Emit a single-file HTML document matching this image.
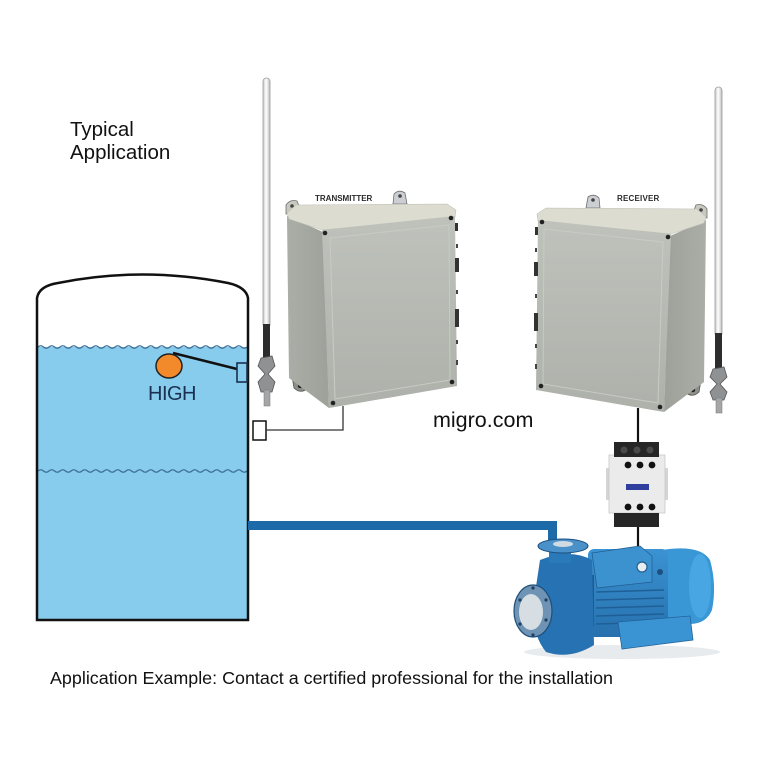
<!DOCTYPE html>
<html><head><meta charset="utf-8"><style>
html,body{margin:0;padding:0;background:#fff;}
svg{display:block;}
text{font-family:"Liberation Sans",Arial,sans-serif;}
</style></head><body>
<svg width="768" height="768" viewBox="0 0 768 768" xmlns="http://www.w3.org/2000/svg">
<defs>
<linearGradient id="front" x1="0" y1="0" x2="0" y2="1"><stop offset="0" stop-color="#bec2bb"/><stop offset="1" stop-color="#adb1aa"/></linearGradient>
<linearGradient id="side" x1="0" y1="0" x2="1" y2="0"><stop offset="0" stop-color="#aaaea6"/><stop offset="1" stop-color="#9da19a"/></linearGradient>
<linearGradient id="ant" x1="0" y1="0" x2="1" y2="0"><stop offset="0" stop-color="#c9c9c9"/><stop offset=".45" stop-color="#ffffff"/><stop offset="1" stop-color="#bdbdbd"/></linearGradient>
<linearGradient id="motor" x1="0" y1="0" x2="0" y2="1"><stop offset="0" stop-color="#3b93d3"/><stop offset="1" stop-color="#2670ad"/></linearGradient>
<g id="box">
  <path d="M286,214 L286,205 Q290,199 297,201 L301,211 Z" fill="#c8cac0" stroke="#6d6f69" stroke-width=".8"/>
  <circle cx="292" cy="206" r="1.8" fill="#444"/>
  <path d="M393,204 L394,194 Q399,189 405,193 L407,204 Z" fill="#ccced4" stroke="#6d6f69" stroke-width=".8"/>
  <circle cx="400" cy="196" r="1.8" fill="#444"/>
  <path d="M292,376 L294,388 Q300,394 307,389 L308,380 Z" fill="#8c9089" stroke="#555" stroke-width=".8"/>
  <circle cx="300" cy="386" r="2.2" fill="#222"/>
  <path d="M287,216 L323,232 L329,408 L289,378 Z" fill="url(#side)"/>
  <path d="M287,213 L296,205 L447,204 L456,210 L455,217 L322,230 L289,219 Z" fill="#dcdcd0" stroke="#bfc1b6" stroke-width=".6"/>
  <path d="M322,230 L455,216 L457,386 L329,408 Z" fill="url(#front)"/>
  <path d="M330,238 L449,225 L450,380 L335,399 Z" fill="none" stroke="#c8cbc4" stroke-width="1"/>
  <circle cx="325" cy="233" r="2.3" fill="#222"/>
  <circle cx="451" cy="218" r="2.3" fill="#222"/>
  <circle cx="452" cy="382" r="2.3" fill="#222"/>
  <circle cx="333" cy="403" r="2.3" fill="#222"/>
  <rect x="455" y="223" width="3" height="8" fill="#333"/>
  <rect x="455" y="258" width="4" height="14" fill="#333"/>
  <rect x="455" y="309" width="4" height="18" fill="#333"/>
  <rect x="456" y="244" width="2" height="4" fill="#444"/>
  <rect x="456" y="290" width="2" height="4" fill="#444"/>
  <rect x="456" y="340" width="2" height="4" fill="#444"/>
  <rect x="456" y="360" width="2" height="5" fill="#444"/>
</g>
</defs>

<rect width="768" height="768" fill="#fff"/>

<!-- Title -->
<text x="70" y="136" font-size="20.5" fill="#111">Typical</text>
<text x="70" y="159" font-size="20.5" fill="#111">Application</text>

<!-- Tank -->
<path d="M37,620 V298 Q39,286 58,283 Q142,266 228,283 Q246,287 248,298 V620 Z" fill="#fff"/>
<rect x="37" y="347" width="211" height="273" fill="#87ccec"/>
<path d="M38,347 q2.75,-2.5 5.5,0 t5.5,0 t5.5,0 t5.5,0 t5.5,0 t5.5,0 t5.5,0 t5.5,0 t5.5,0 t5.5,0 t5.5,0 t5.5,0 t5.5,0 t5.5,0 t5.5,0 t5.5,0 t5.5,0 t5.5,0 t5.5,0 t5.5,0 t5.5,0 t5.5,0 t5.5,0 t5.5,0 t5.5,0 t5.5,0 t5.5,0 t5.5,0 t5.5,0 t5.5,0 t5.5,0 t5.5,0 t5.5,0 t5.5,0 t5.5,0 t5.5,0 t5.5,0 t5.5,0" fill="none" stroke="#3d6f98" stroke-width="1.3"/>
<path d="M38,471 q2.75,-2.5 5.5,0 t5.5,0 t5.5,0 t5.5,0 t5.5,0 t5.5,0 t5.5,0 t5.5,0 t5.5,0 t5.5,0 t5.5,0 t5.5,0 t5.5,0 t5.5,0 t5.5,0 t5.5,0 t5.5,0 t5.5,0 t5.5,0 t5.5,0 t5.5,0 t5.5,0 t5.5,0 t5.5,0 t5.5,0 t5.5,0 t5.5,0 t5.5,0 t5.5,0 t5.5,0 t5.5,0 t5.5,0 t5.5,0 t5.5,0 t5.5,0 t5.5,0 t5.5,0 t5.5,0" fill="none" stroke="#3d6f98" stroke-width="1.3"/>
<path d="M37,620 V298 Q39,286 58,283 Q142,266 228,283 Q246,287 248,298 V620 Z" fill="none" stroke="#111" stroke-width="2.5"/>

<!-- Float -->
<line x1="173" y1="353" x2="237" y2="369" stroke="#111" stroke-width="2.5"/>
<ellipse cx="169" cy="366" rx="13" ry="12" fill="#f28a2c" stroke="#222" stroke-width="1.5"/>
<rect x="237" y="363" width="10" height="19" fill="#87ccec" stroke="#1a3050" stroke-width="1.6"/>
<text x="148" y="400" font-size="20" fill="#1a3050" letter-spacing="-0.5">HIGH</text>

<!-- Sensor 2 -->
<rect x="253" y="421" width="13" height="19" fill="#fff" stroke="#111" stroke-width="1.5"/>
<polyline points="266,430 343,430 343,406" fill="none" stroke="#333" stroke-width="1.3"/>

<!-- Pipe -->
<path d="M248,521 H557 V545 H548 V530 H248 Z" fill="#1d6aa8"/>

<!-- Transmitter -->
<use href="#box"/>
<text x="315" y="201" font-size="8" font-weight="bold" fill="#2a2a2a" letter-spacing="0">TRANSMITTER</text>

<!-- Receiver (mirrored) -->
<g transform="translate(993,4) scale(-1,1)"><use href="#box"/></g>
<text x="617" y="201" font-size="8" font-weight="bold" fill="#2a2a2a" letter-spacing="0.2">RECEIVER</text>

<!-- Antenna left -->
<rect x="263" y="78" width="7" height="250" rx="3.5" fill="url(#ant)" stroke="#9a9a9a" stroke-width=".8"/>
<rect x="263" y="324" width="7" height="35" fill="#2d2d2d"/>
<path d="M261,358 L272,356 L275,366 L268,374 L275,382 L272,392 L261,392 L258,382 L265,374 L258,366 Z" fill="#8f9193" stroke="#555" stroke-width=".8"/>
<rect x="264" y="390" width="6" height="16" fill="#a4a6a8" stroke="#777" stroke-width=".5"/>

<!-- Antenna right -->
<rect x="715" y="87" width="7" height="250" rx="3.5" fill="url(#ant)" stroke="#9a9a9a" stroke-width=".8"/>
<rect x="715" y="333" width="7" height="37" fill="#2d2d2d"/>
<path d="M713,369 L724,367 L727,377 L720,384 L727,392 L724,400 L713,400 L710,392 L717,384 L710,377 Z" fill="#8f9193" stroke="#555" stroke-width=".8"/>
<rect x="716" y="398" width="6" height="15" fill="#a4a6a8" stroke="#777" stroke-width=".5"/>

<!-- migro.com -->
<text x="433" y="427" font-size="21.5" fill="#111">migro.com</text>

<!-- Wires to contactor -->
<line x1="638" y1="408" x2="638" y2="443" stroke="#111" stroke-width="2.2"/>
<line x1="638" y1="526" x2="638" y2="550" stroke="#111" stroke-width="2.2"/>

<!-- Contactor -->
<rect x="606" y="468" width="5" height="32" fill="#d5d5d5"/>
<rect x="663" y="468" width="5" height="32" fill="#d5d5d5"/>
<rect x="609" y="455" width="56" height="58" fill="#ebebeb" stroke="#c8c8c8" stroke-width=".8"/>
<rect x="614" y="442" width="45" height="15" fill="#262626"/>
<circle cx="624" cy="450" r="3.5" fill="#4a4a4a"/><circle cx="637" cy="450" r="3.5" fill="#4a4a4a"/><circle cx="650" cy="450" r="3.5" fill="#4a4a4a"/>
<circle cx="628" cy="465" r="3.4" fill="#111"/><circle cx="640" cy="465" r="3.4" fill="#111"/><circle cx="652" cy="465" r="3.4" fill="#111"/>
<rect x="626" y="484" width="23" height="6" fill="#2e3f9e"/>
<circle cx="628" cy="507" r="3.4" fill="#111"/><circle cx="640" cy="507" r="3.4" fill="#111"/><circle cx="652" cy="507" r="3.4" fill="#111"/>
<rect x="614" y="513" width="45" height="14" fill="#262626"/>

<!-- Pump -->
<ellipse cx="622" cy="652" rx="98" ry="7" fill="#e8ebee"/>
<path d="M662,550 Q700,544 710,560 Q717,585 712,610 Q706,624 690,624 L662,626 Z" fill="#3a97d6"/>
<ellipse cx="700" cy="586" rx="11" ry="32" fill="#48a7e3"/>
<rect x="588" y="549" width="80" height="88" rx="6" fill="url(#motor)"/>
<g stroke="#1f5f96" stroke-width="1.5">
<line x1="596" y1="592" x2="664" y2="590"/><line x1="596" y1="600" x2="664" y2="598"/><line x1="596" y1="608" x2="664" y2="606"/><line x1="596" y1="616" x2="664" y2="614"/><line x1="596" y1="624" x2="664" y2="622"/>
</g>
<path d="M592,553 L640,546 L652,556 L652,582 L597,588 Z" fill="#3c92cf" stroke="#225f94" stroke-width=".8"/>
<circle cx="642" cy="567" r="5" fill="#e8eef2" stroke="#1f5f90" stroke-width="1.2"/>
<circle cx="660" cy="572" r="3" fill="#1c4f7f"/>
<path d="M618,622 L690,616 L693,640 L622,649 Z" fill="#3a94d4" stroke="#22639a" stroke-width=".8"/>
<rect x="582" y="575" width="12" height="52" fill="#1d5a90"/>
<path d="M540,560 Q570,548 592,560 L594,645 Q570,660 546,652 Q530,632 534,600 Z" fill="#2772b2"/>
<rect x="549" y="541" width="22" height="22" fill="#2a7ab9"/>
<ellipse cx="563" cy="546" rx="25" ry="7" fill="#4b91c9" stroke="#1b4f80" stroke-width="1"/>
<ellipse cx="563" cy="544" rx="10" ry="3" fill="#d0dbe3"/>
<ellipse cx="533" cy="611" rx="19" ry="26" fill="#6f93b4" stroke="#1d4f7a" stroke-width="1.2"/>
<ellipse cx="531" cy="612" rx="12" ry="18" fill="#d6dee4"/>
<circle cx="533" cy="588" r="1.6" fill="#1d3f60"/><circle cx="520" cy="600" r="1.6" fill="#1d3f60"/><circle cx="520" cy="624" r="1.6" fill="#1d3f60"/><circle cx="533" cy="635" r="1.6" fill="#1d3f60"/><circle cx="546" cy="620" r="1.6" fill="#1d3f60"/><circle cx="546" cy="600" r="1.6" fill="#1d3f60"/>

<!-- Footer -->
<text x="50" y="684" font-size="17.5" fill="#111" textLength="563" lengthAdjust="spacingAndGlyphs">Application Example: Contact a certified professional for the installation</text>
</svg>
</body></html>
